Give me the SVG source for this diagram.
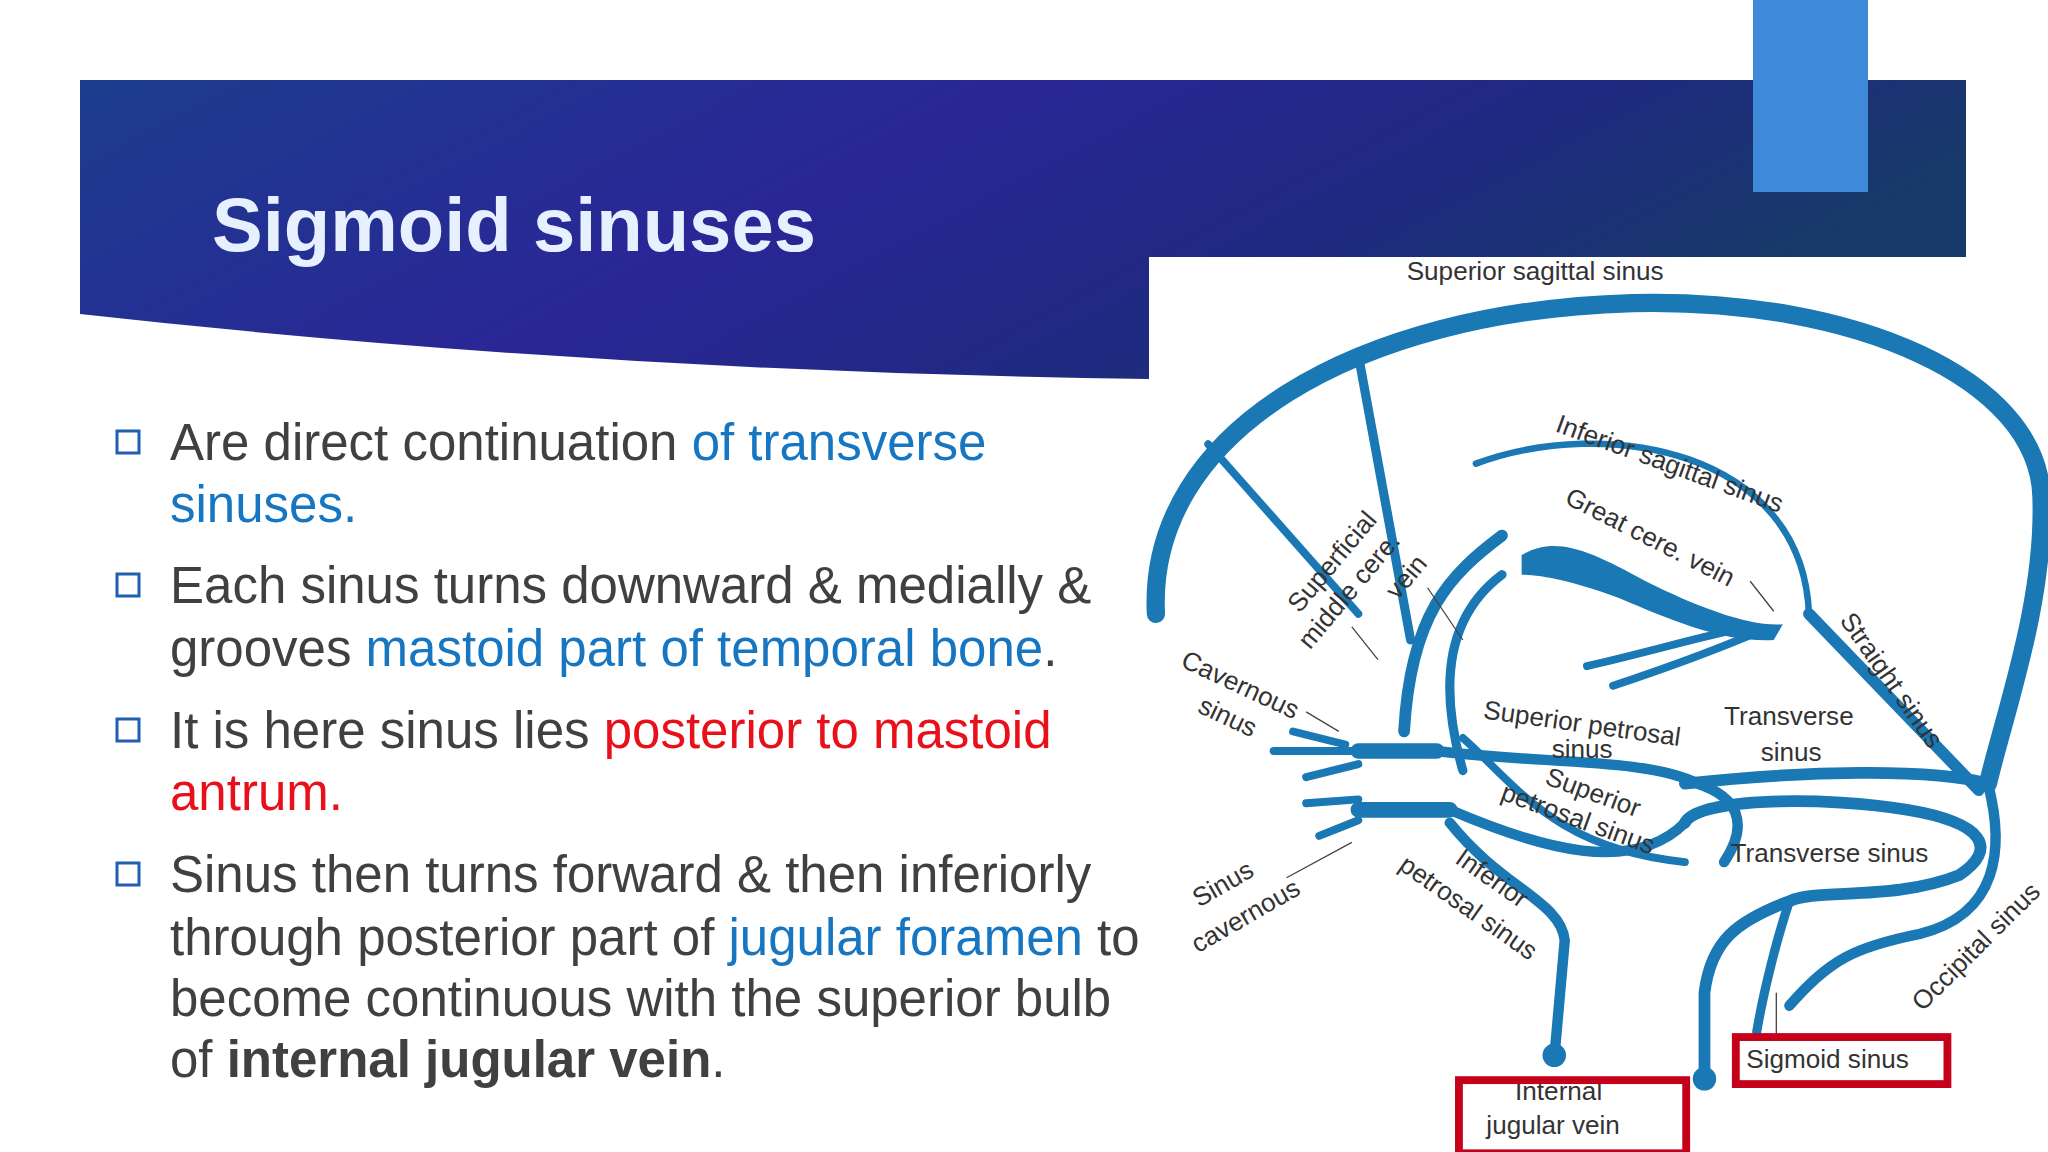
<svg xmlns="http://www.w3.org/2000/svg" width="2048" height="1152" viewBox="0 0 2048 1152">
<defs>
<linearGradient id="hg" x1="0" y1="0" x2="1" y2="0.3">
<stop offset="0" stop-color="#1c3d8e"/><stop offset="0.45" stop-color="#2a2696"/><stop offset="0.75" stop-color="#1f2a80"/><stop offset="1" stop-color="#173a68"/>
</linearGradient>
<style>
.b{font-family:"Liberation Sans",Arial,sans-serif;font-size:51px;fill:#404040}
.bl{fill:#1676c2}.rd{fill:#e8101a}
.v{fill:none;stroke:#1a78b4;stroke-linecap:round;stroke-linejoin:round}
.vf{fill:#1a78b4}
.l{font-family:"Liberation Sans",Arial,sans-serif;font-size:20px;fill:#333}
.ln{stroke:#444;stroke-width:1;fill:none}
.box{fill:none;stroke:#c4001a;stroke-width:6}
</style>
</defs>
<rect width="2048" height="1152" fill="#fff"/>
<g id="header">
<path d="M80,80 H1966 V257 H1149 V379 Q600,372 80,314 Z" fill="url(#hg)"/>
<rect x="1753" y="0" width="115" height="192" fill="#3f8ad8"/>
<text x="212" y="251" font-family="Liberation Sans,Arial,sans-serif" font-size="76" font-weight="bold" fill="#e6f0ff">Sigmoid sinuses</text>
</g>
<g id="bullets">
<g fill="none" stroke="#1e5fb0" stroke-width="3">
<rect x="117" y="431" width="22" height="22"/><rect x="117" y="574" width="22" height="22"/><rect x="117" y="719" width="22" height="22"/><rect x="117" y="863" width="22" height="22"/>
</g>
<text class="b" x="170" y="460">Are direct continuation <tspan class="bl">of transverse</tspan></text>
<text class="b bl" x="170" y="522">sinuses.</text>
<text class="b" x="170" y="603">Each sinus turns downward &amp; medially &amp;</text>
<text class="b" x="170" y="666">grooves <tspan class="bl">mastoid part of temporal bone</tspan>.</text>
<text class="b" x="170" y="748">It is here sinus lies <tspan class="rd">posterior to mastoid</tspan></text>
<text class="b rd" x="170" y="810">antrum.</text>
<text class="b" x="170" y="892">Sinus then turns forward &amp; then inferiorly</text>
<text class="b" x="170" y="955">through posterior part of <tspan class="bl">jugular foramen</tspan> to</text>
<text class="b" x="170" y="1016">become continuous with the superior bulb</text>
<text class="b" x="170" y="1077">of <tspan font-weight="bold">internal jugular vein</tspan>.</text>
</g>
<g id="diagram" transform="scale(1.30612)">
<g id="connectors">
<path class="v" stroke-width="14" d="M885,470 C878,330 1040,238 1250,232 C1420,228 1560,290 1563,380 C1566,460 1535,545 1522,600"/>
<path class="v" stroke-width="8" d="M1522,600 C1535,650 1530,700 1470,715 C1420,725 1400,735 1370,770"/>
<path class="v" stroke-width="9" d="M1385,470 L1515,605"/>
<path class="v" stroke-width="5" d="M1130,355 C1230,318 1380,345 1385,470"/>
<path class="vf" d="M1165,425 C1190,410 1215,420 1260,445 C1300,465 1340,480 1365,478 L1358,490 C1320,492 1280,475 1240,458 C1205,445 1180,440 1165,440 Z"/>
<path class="v" stroke-width="6" d="M1215,510 C1260,500 1310,485 1340,480 M1235,525 C1280,510 1320,495 1350,482"/>
<path class="v" stroke-width="7" d="M1040,272 L1080,490"/>
<path class="v" stroke-width="6" d="M925,340 L1040,470"/>
<path class="v" stroke-width="9" d="M1150,410 C1110,440 1080,470 1075,560"/>
<path class="v" stroke-width="7" d="M1120,590 C1100,520 1110,470 1150,440"/>
<path class="v" stroke-width="12" d="M1040,575 L1100,575 M1040,620 L1110,620"/>
<path class="v" stroke-width="6" d="M975,575 L1040,575 M990,560 L1030,570 M1000,595 L1040,585 M1000,615 L1040,612 M1010,640 L1040,628"/>
<path class="v" stroke-width="8" d="M1100,575 C1180,585 1260,580 1300,600 C1330,610 1340,630 1320,660 M1110,620 C1180,650 1250,670 1290,630"/>
<path class="v" stroke-width="9" d="M1290,600 C1380,590 1480,588 1522,600"/>
<path class="v" stroke-width="9" d="M1290,630 C1300,610 1400,610 1460,620 C1520,630 1530,650 1500,670 C1450,690 1390,680 1370,690 C1330,705 1310,720 1305,760 L1305,825"/>
<path class="v" stroke-width="8" d="M1110,630 C1150,680 1195,690 1198,720 L1190,810"/>
<path class="v" stroke-width="6" d="M1120,565 C1160,600 1190,650 1290,660"/>
<path class="v" stroke-width="7" d="M1370,690 C1360,720 1350,760 1345,790"/>
<circle class="vf" cx="1190" cy="808" r="9"/><circle class="vf" cx="1305" cy="826" r="9"/>
<path class="ln" d="M1360,760 V795 M1000,545 L1025,560 M985,672 L1035,645 M1035,480 L1055,505 M1093,450 L1120,490 M1340,445 L1358,468"/>
</g>
<g id="labels">
<text class="l" x="1077" y="214">Superior sagittal sinus</text>
<text class="l" transform="translate(1190,330) rotate(20)">Inferior sagittal sinus</text>
<text class="l" transform="translate(1197,385) rotate(27)">Great cere. vein</text>
<text class="l" transform="translate(995,470) rotate(-50)">Superficial</text>
<text class="l" transform="translate(1003,498) rotate(-50)">middle cere.</text>
<text class="l" transform="translate(1070,460) rotate(-50)">vein</text>
<text class="l" transform="translate(903,510) rotate(25)">Cavernous</text>
<text class="l" transform="translate(916,545) rotate(25)">sinus</text>
<text class="l" transform="translate(1135,550) rotate(8)">Superior petrosal</text>
<text class="l" x="1188" y="580">sinus</text>
<text class="l" x="1320" y="555">Transverse</text>
<text class="l" x="1348" y="583">sinus</text>
<text class="l" transform="translate(1408,475) rotate(55)">Straight sinus</text>
<text class="l" transform="translate(1182,600) rotate(20)">Superior</text>
<text class="l" transform="translate(1148,612) rotate(20)">petrosal sinus</text>
<text class="l" x="1325" y="660">Transverse sinus</text>
<text class="l" transform="translate(1113,660) rotate(35)">Inferior</text>
<text class="l" transform="translate(1070,665) rotate(35)">petrosal sinus</text>
<text class="l" transform="translate(918,695) rotate(-30)">Sinus</text>
<text class="l" transform="translate(917,730) rotate(-30)">cavernous</text>
<text class="l" transform="translate(1472,775) rotate(-45)">Occipital sinus</text>
<text class="l" x="1337" y="818">Sigmoid sinus</text>
<text class="l" x="1160" y="842">Internal</text>
<text class="l" x="1138" y="868">jugular vein</text>
<rect class="box" x="1117" y="827" width="174" height="56"/>
<rect class="box" x="1329" y="794" width="162" height="36"/>
</g>
</g>
</svg>
